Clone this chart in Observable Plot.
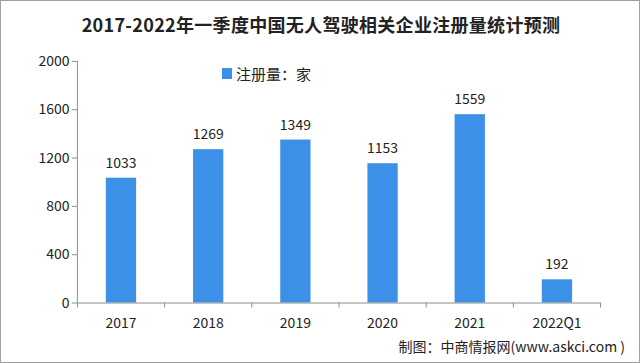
<!DOCTYPE html>
<html><head><meta charset="utf-8">
<script src="https://cdn.jsdelivr.net/npm/d3@7"></script>
<script src="https://cdn.jsdelivr.net/npm/@observablehq/plot@0.6"></script>
<style>
html,body{margin:0;padding:0;background:#fff;}
#wrap{position:relative;width:640px;height:363px;box-sizing:border-box;border:1px solid #a0a0a0;overflow:hidden;font-family:"Noto Sans CJK SC",sans-serif;}
#chart{position:absolute;left:-1px;top:-1px;}
#title{position:absolute;left:0;top:10px;width:640px;text-align:center;font-size:18px;font-weight:bold;color:#222;letter-spacing:0.3px;}
#legend{position:absolute;left:221px;top:62px;font-size:15px;color:#222;display:flex;align-items:center;}
#legend span.sw{display:inline-block;width:10px;height:11px;background:#3c90e8;margin-right:4px;}
#caption{position:absolute;right:14px;top:335px;font-size:14px;color:#222;}
</style></head>
<body><div id="wrap">
<div id="chart"></div>
<div id="title">2017-2022年一季度中国无人驾驶相关企业注册量统计预测</div>
<div id="legend"><span class="sw"></span><span>注册量：家</span></div>
<div id="caption">制图：中商情报网(www.askci.com )</div>
</div>
<script>
const categories = ["2017","2018","2019","2020","2021","2022Q1"];
const values = [1033,1269,1349,1153,1559,192];
const yTicks = [0,400,800,1200,1600,2000];

const data = categories.map((c,i)=>({cat:c, i, value:values[i]}));
const n = categories.length;

const chart = Plot.plot({
  width:640, height:363,
  marginLeft:77, marginRight:39, marginTop:61, marginBottom:60,
  style:{fontFamily:"'Noto Sans CJK SC', sans-serif", fontSize:"13px", color:"#222", background:"transparent"},
  x:{type:"linear", domain:[0,n], axis:null},
  y:{domain:[0,2000], axis:null},
  marks:[
    Plot.rectY(data,{x1:d=>d.i, x2:d=>d.i+1, y:"value", fill:"#3c90e8", insetLeft:29, insetRight:28}),
    Plot.ruleY([0],{stroke:"#8c8c8c", strokeWidth:1}),
    Plot.ruleX([0],{stroke:"#8c8c8c", strokeWidth:1}),
    Plot.axisY({ticks:yTicks, tickSize:5, tickPadding:3, stroke:"#8c8c8c", fill:"#222", fontSize:14, label:null, tickFormat:d=>String(d)}),
    Plot.axisX({ticks:d3.range(n+1), tickSize:5, tickFormat:()=>"", label:null, stroke:"#8c8c8c"}),
    Plot.text(data,{x:d=>d.i+0.5, text:"cat", frameAnchor:"bottom", dy:25, fontSize:14, fill:"#222"}),
    Plot.text(data,{x:d=>d.i+0.5, y:"value", text:d=>String(d.value), dy:-15, fontSize:14, fill:"#222"})
  ]
});
document.getElementById("chart").appendChild(chart);
</script>
</body></html>
